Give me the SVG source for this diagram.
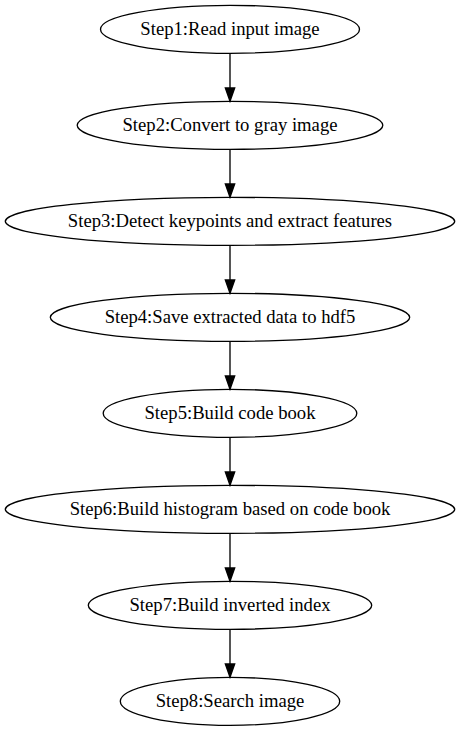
<svg xmlns="http://www.w3.org/2000/svg" width="460" height="731" viewBox="0 0 460 731">
<style>
  .node ellipse { fill: none; stroke: #000; stroke-width: 1.33; }
  .node text { font-family: "Liberation Serif", "Times New Roman", serif; font-size: 18.67px; text-anchor: middle; fill: #000; }
  .edge line { stroke: #000; stroke-width: 1.33; }
  .edge polygon { fill: #000; stroke: #000; stroke-width: 1.33; }
</style>
<rect width="460" height="731" fill="#fff"/>
<g id="nodes">
  <g id="step1" class="node"><ellipse cx="230" cy="29.33" rx="129.5" ry="24"/><text x="230" y="34.8">Step1:Read input image</text></g>
  <g id="step2" class="node"><ellipse cx="230" cy="125.33" rx="152.8" ry="24"/><text x="230" y="130.8">Step2:Convert to gray image</text></g>
  <g id="step3" class="node"><ellipse cx="230" cy="221.33" rx="224.7" ry="24"/><text x="230" y="226.8">Step3:Detect keypoints and extract features</text></g>
  <g id="step4" class="node"><ellipse cx="230" cy="317.33" rx="179.7" ry="24"/><text x="230" y="322.8">Step4:Save extracted data to hdf5</text></g>
  <g id="step5" class="node"><ellipse cx="230" cy="413.33" rx="126.8" ry="24"/><text x="230" y="418.8">Step5:Build code book</text></g>
  <g id="step6" class="node"><ellipse cx="230" cy="509.33" rx="224.7" ry="24"/><text x="230" y="514.8">Step6:Build histogram based on code book</text></g>
  <g id="step7" class="node"><ellipse cx="230" cy="605.33" rx="141.7" ry="24"/><text x="230" y="610.8">Step7:Build inverted index</text></g>
  <g id="step8" class="node"><ellipse cx="230" cy="701.33" rx="109.7" ry="24"/><text x="230" y="706.8">Step8:Search image</text></g>
</g>
<g id="connectors" class="edge">
  <line x1="230" y1="53.33" x2="230" y2="88"/><polygon points="234.67,88 230,101.33 225.33,88"/>
  <line x1="230" y1="149.33" x2="230" y2="184"/><polygon points="234.67,184 230,197.33 225.33,184"/>
  <line x1="230" y1="245.33" x2="230" y2="280"/><polygon points="234.67,280 230,293.33 225.33,280"/>
  <line x1="230" y1="341.33" x2="230" y2="376"/><polygon points="234.67,376 230,389.33 225.33,376"/>
  <line x1="230" y1="437.33" x2="230" y2="472"/><polygon points="234.67,472 230,485.33 225.33,472"/>
  <line x1="230" y1="533.33" x2="230" y2="568"/><polygon points="234.67,568 230,581.33 225.33,568"/>
  <line x1="230" y1="629.33" x2="230" y2="664"/><polygon points="234.67,664 230,677.33 225.33,664"/>
</g>
</svg>
